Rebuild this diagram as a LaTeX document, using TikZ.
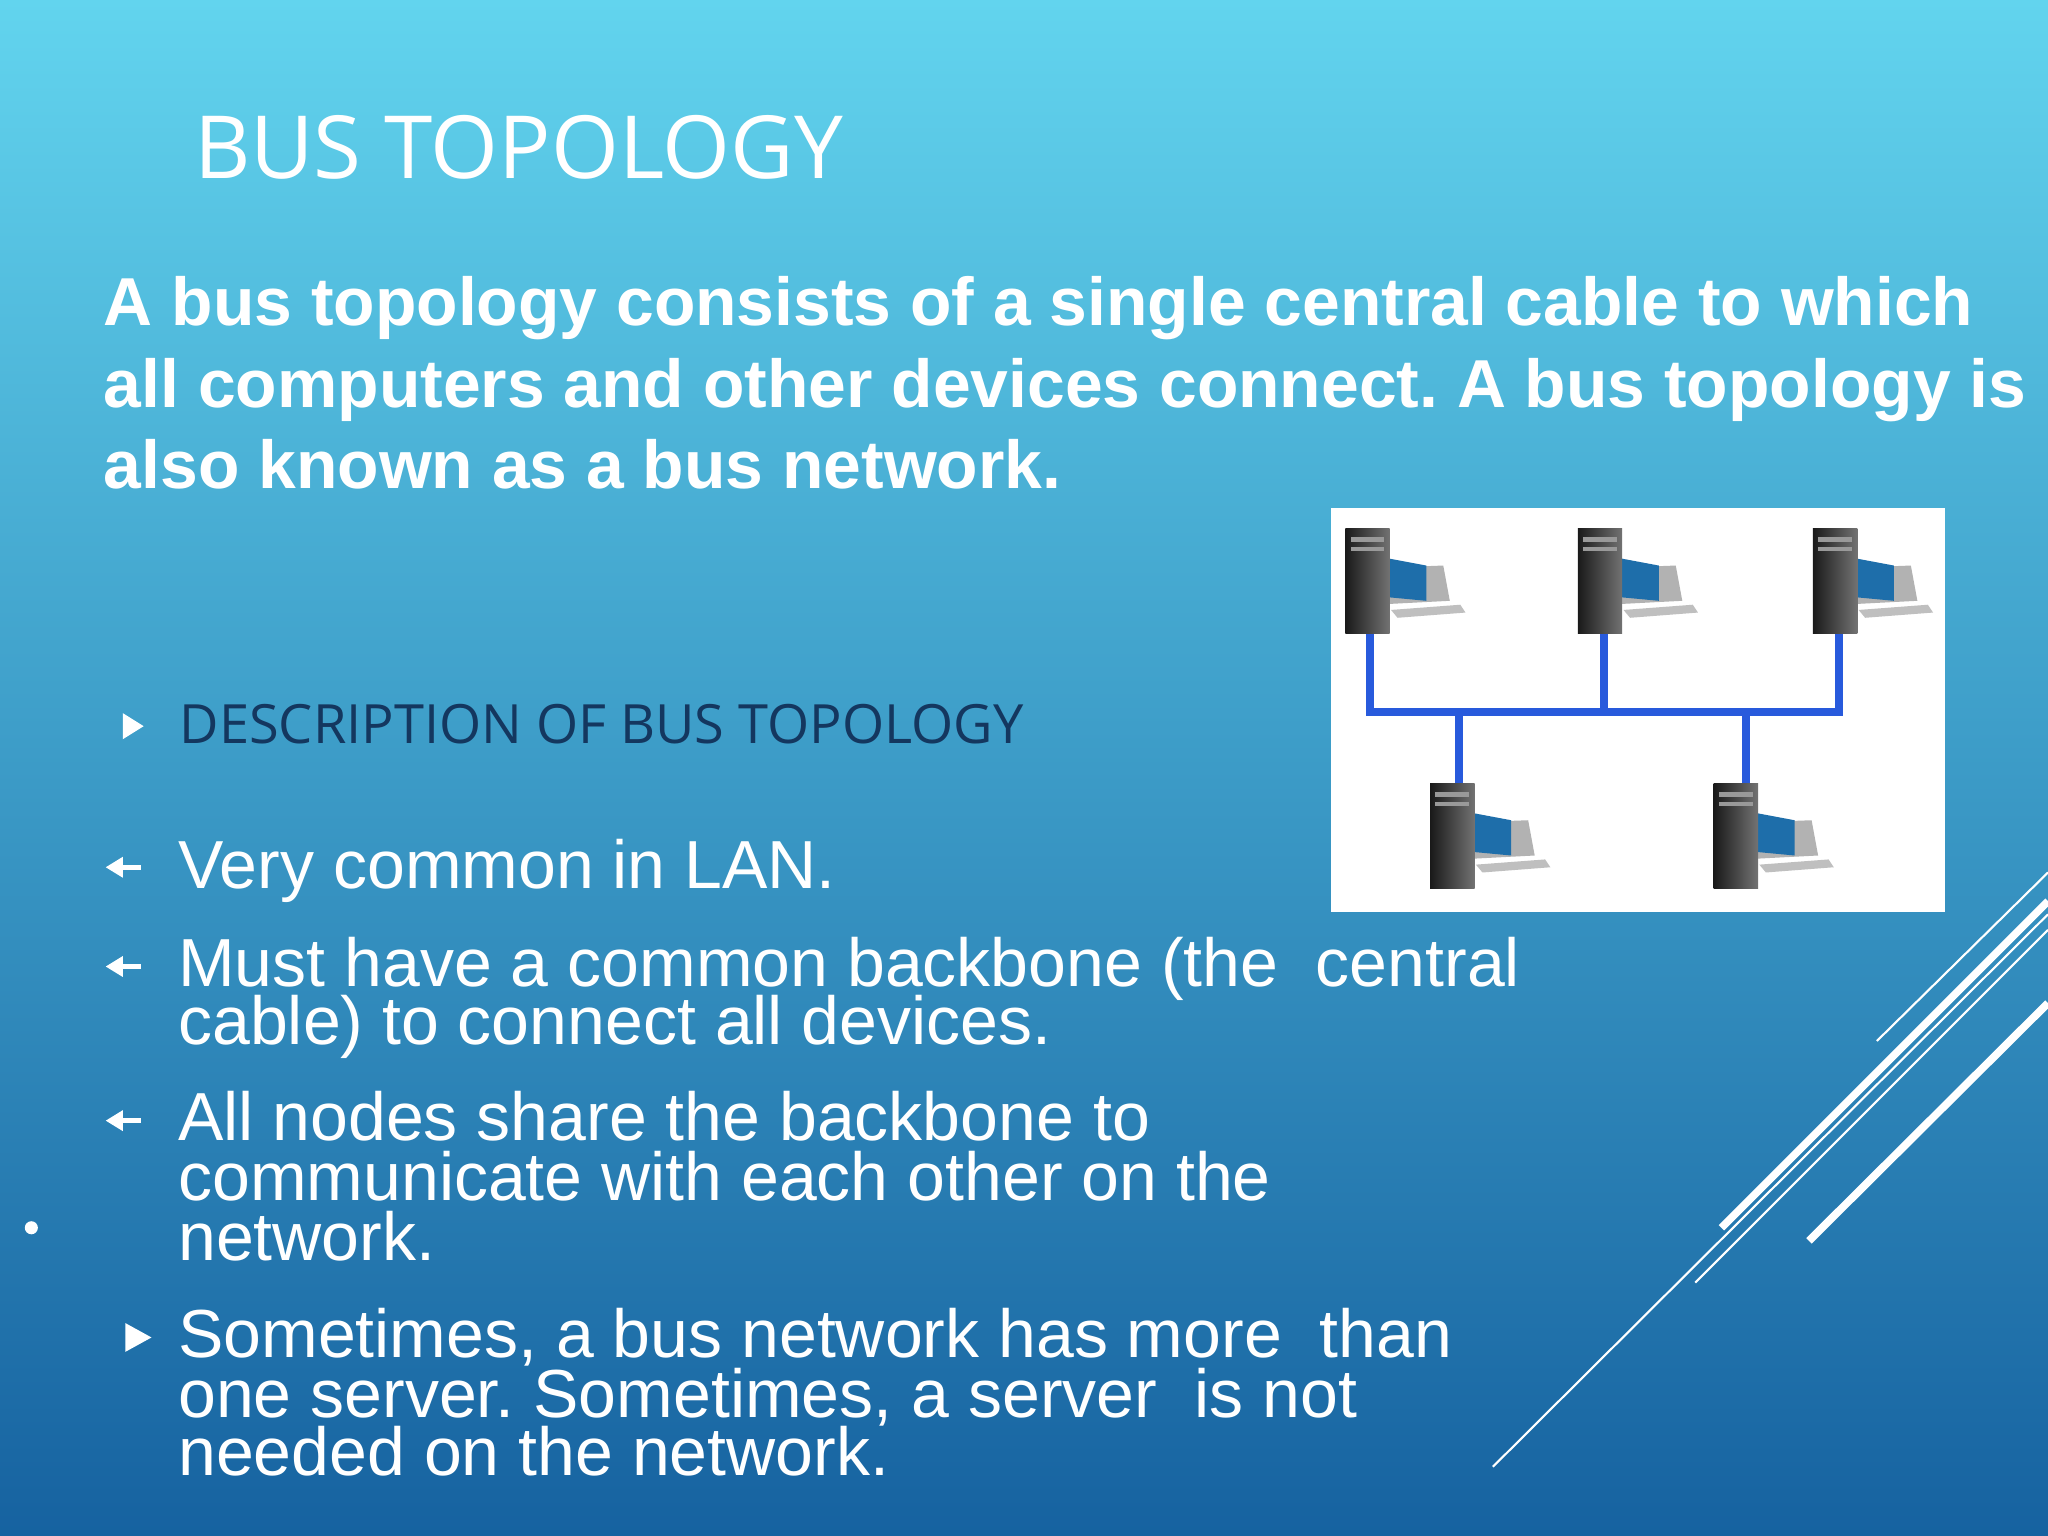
\documentclass[tikz,border=0pt]{standalone}
\usepackage{fontspec}
\setmainfont{Liberation Sans}
\newfontfamily\titlefont{Open Sans}
\definecolor{bgtop}{RGB}{98,212,238}
\definecolor{bgbot}{RGB}{22,98,160}
\definecolor{busblue}{RGB}{40,90,220}
\definecolor{screen}{RGB}{30,110,170}
\definecolor{desccol}{RGB}{20,55,95}
\frenchspacing
\begin{document}
\begin{tikzpicture}[x=0.01306cm,y=-0.01306cm,
  white text/.style={text=white,inner sep=0pt,anchor=base west},
  bodytxt/.style={white text,font=\fontsize{19.35}{20}\selectfont},
  busline/.style={draw=busblue,line width=2.2pt},
  deco/.style={draw=white},
  pics/pc/.style={code={
    \fill[gray!60] (20,30) -- (75,28) -- (80,55) -- (22,58) -- cycle;
    \fill[screen] (30,22) -- (62,28) -- (62,55) -- (30,52) -- cycle;
    \fill[gray!50] (35,62) -- (88,58) -- (92,64) -- (40,68) -- cycle;
    \shade[left color=black!90,right color=black!55] (0,0) rectangle (34,80);
    \fill[black!40] (4,6) rectangle (30,10);
    \fill[black!40] (4,14) rectangle (30,17);
  }}]
\useasboundingbox (0,0) rectangle (1568,1176);
\shade[top color=bgtop,bottom color=bgbot] (0,0) rectangle (1568,1176);
% title
\node[white text,font=\titlefont\fontsize{24.8}{28}\selectfont] (title) at (148,137) {BUS TOPOLOGY};
% bold paragraph
\node[white text,font=\bfseries\fontsize{19.3}{20}\selectfont] (p1) at (79,249) {A bus topology consists of a single central cable to which};
\node[white text,font=\bfseries\fontsize{19.3}{20}\selectfont] (p2) at (79,312) {all computers and other devices connect. A bus topology is};
\node[white text,font=\bfseries\fontsize{19.3}{20}\selectfont] (p3) at (79,374) {also known as a bus network.};
% picture
\fill[white] (1019,389) rectangle (1489,698);
\coordinate (t1) at (1049,480); \coordinate (t2) at (1228,480); \coordinate (t3) at (1408,480);
\coordinate (h1) at (1049,545); \coordinate (h2) at (1228,545); \coordinate (h3) at (1408,545);
\coordinate (b1) at (1117,545); \coordinate (b2) at (1337,545);
\coordinate (d1) at (1117,605); \coordinate (d2) at (1337,605);
\draw[busline] (t1) -- (h1) -- (h3) -- (t3);
\draw[busline] (t2) -- (h2);
\draw[busline] (b1) -- (d1);
\draw[busline] (b2) -- (d2);
\pic at (1030,405) {pc};
\pic at (1208,405) {pc};
\pic at (1388,405) {pc};
\pic at (1095,600) {pc};
\pic at (1312,600) {pc};
% description
\fill[white] (94,546) -- (110,556) -- (94,566) -- cycle;
\node[anchor=base west,inner sep=0pt,text=desccol,font=\titlefont\fontsize{15.4}{17}\selectfont] (desc) at (137,569) {DESCRIPTION OF BUS TOPOLOGY};
% arrow bullets
\foreach \yy in {664,740,858}{
  \fill[white] (81,\yy) -- (94,\yy-8) -- (94,\yy+8) -- cycle;
  \draw[white,line width=1.4pt] (92,\yy) -- (108,\yy);
}
\fill[white] (96,1013) -- (116,1024) -- (96,1035) -- cycle;
\node[bodytxt] (l1) at (136,680) {Very common in LAN.};
\node[bodytxt] (l2) at (136,755) {Must have a common backbone (the \ central};
\node[bodytxt] (l3) at (136,800) {cable) to connect all devices.};
\node[bodytxt] (l4) at (136,873) {All nodes share the backbone to};
\node[bodytxt] (l5) at (136,919) {communicate with each other on the};
\node[bodytxt] (l6) at (136,965) {network.};
\node[bodytxt] (l7) at (136,1039) {Sometimes, a bus network has more \ than};
\node[bodytxt] (l8) at (136,1085) {one server. Sometimes, a server \ is not};
\node[bodytxt] (l9) at (136,1130) {needed on the network.};
\fill[white] (24,940) circle (5);
% deco lines
\draw[deco,line width=0.6pt] (1437,797) -- (1568,668);
\draw[deco,line width=2.2pt] (1318,940) -- (1568,690);
\draw[deco,line width=0.6pt] (1298,982) -- (1568,712);
\draw[deco,line width=2.2pt] (1385,950) -- (1568,768);
\draw[deco,line width=0.6pt] (1143,1123) -- (1568,700);
\end{tikzpicture}
\end{document}
